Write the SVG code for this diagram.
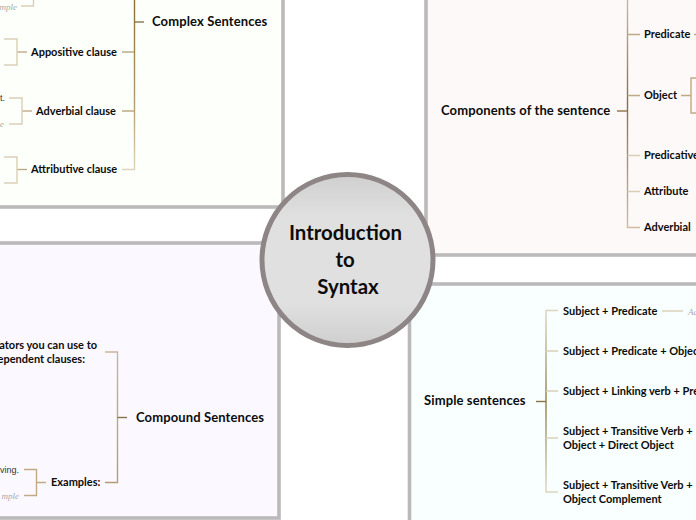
<svg xmlns="http://www.w3.org/2000/svg" width="696" height="520" viewBox="0 0 696 520">
<style>
text{font-family:"Lato","Noto Sans",sans-serif;font-weight:700;fill:#0c0c0c}
.h{font-size:13px;letter-spacing:.12px}
.s{font-size:11px}
.g{font-family:"Liberation Serif",serif;font-weight:400;font-style:italic;font-size:9px;fill:#a9a7a7}
.n{font-family:"Liberation Sans",sans-serif;font-weight:400;font-size:9px;fill:#333}
.p{stroke:#bbb9b9;stroke-width:3.6}
.c{fill:none;stroke-width:1.4}
.l{stroke:#d9cfb8}.m{stroke:#c0aa85}.d{stroke:#8b7348}
.t{font-size:20.4px;font-weight:700;text-anchor:middle}
</style>
<defs>
<linearGradient id="tl" gradientUnits="userSpaceOnUse" x1="0" y1="0" x2="0" y2="170"><stop offset="0" stop-color="#8b7030"/><stop offset=".6" stop-color="#b09c70"/><stop offset="1" stop-color="#ddd5bd"/></linearGradient>
<linearGradient id="tr" gradientUnits="userSpaceOnUse" x1="0" y1="0" x2="0" y2="228"><stop offset="0" stop-color="#cdb79a"/><stop offset=".45" stop-color="#8b6c48"/><stop offset="1" stop-color="#d0bc9f"/></linearGradient>
<linearGradient id="bl" gradientUnits="userSpaceOnUse" x1="0" y1="352" x2="0" y2="483"><stop offset="0" stop-color="#c9b59c"/><stop offset="1" stop-color="#b09a78"/></linearGradient>
<linearGradient id="br" gradientUnits="userSpaceOnUse" x1="0" y1="310" x2="0" y2="492"><stop offset="0" stop-color="#ddd5bd"/><stop offset=".5" stop-color="#8f7a45"/><stop offset="1" stop-color="#ddd5bd"/></linearGradient>
<linearGradient id="ball" x1="0" y1="0" x2="0" y2="1"><stop offset="0" stop-color="#cfcfcf"/><stop offset=".25" stop-color="#e0e0e0"/><stop offset=".75" stop-color="#e0e0e0"/><stop offset="1" stop-color="#cfcfcf"/></linearGradient>
</defs>

<g id="panels">
<rect x="-10" y="-10" width="293" height="217" fill="#fdfffa" class="p"/>
<rect x="426" y="-10" width="290" height="265" fill="#fdf9f8" class="p"/>
<rect x="-10" y="243" width="289" height="275" fill="#fbf9ff" class="p"/>
<rect x="409.500" y="284" width="300" height="250" fill="#f8fffe" class="p"/>
</g>

<g id="connectors">
<path class="c" stroke="url(#tl)" d="M134.500 0V169.500H122"/>
<path class="c d" d="M134 22H144"/>
<path class="c m" d="M122 52H134M122 111H134"/>
<path class="c l" d="M21 6H33.500V0"/>
<path class="c m" d="M17 52H27"/>
<path class="c l" d="M4 39H17V65H4"/>
<path class="c m" d="M22 111H32"/>
<path class="c l" d="M9 98H22V124H9"/>
<path class="c m" d="M17 169.500H27"/>
<path class="c l" d="M4 157H17V183H4"/>

<path class="c" stroke="url(#tr)" d="M627.500 0V227.500H640"/>
<path class="c d" d="M617 111H627.500"/>
<path class="c m" d="M627.500 34.500H640M627.500 95.500H640"/>
<path class="c l" d="M627.500 155.500H640M627.500 191.500H640"/>
<path class="c m" d="M694 34.500H696M681 95.500H691"/>
<path class="c m" d="M696 78H691V113H696"/>

<path class="c" stroke="url(#bl)" d="M105 352H117.500V482.500H105"/>
<path class="c d" d="M117.500 417.500H127"/>
<path class="c m" d="M37 482.500H46M24 495.500H36.500V469.500H24"/>

<path class="c" stroke="url(#br)" d="M558 310.500H546V492H558"/>
<path class="c d" d="M536 401.500H546"/>
<path class="c l" d="M546 351H558M546 391H558M546 438H558"/>
<path class="c l" d="M662 311H683"/>
</g>

<g id="complex-sentences"><text class="h" x="152" y="26">Complex Sentences</text></g>
<g id="appositive-clause"><text class="s" x="31" y="55.500">Appositive clause</text></g>
<g id="adverbial-clause"><text class="s" x="36" y="114.500">Adverbial clause</text></g>
<g id="attributive-clause"><text class="s" x="31" y="173">Attributive clause</text></g>
<g id="tl-notes">
<text class="g" x="17" y="9.500" text-anchor="end">mple</text>
<text class="n" x="5" y="101" text-anchor="end">t.</text>
<text class="g" x="4" y="127" text-anchor="end">e</text>
</g>

<g id="components"><text class="h" x="441" y="115">Components of the sentence</text></g>
<g id="predicate"><text class="s" x="644" y="38">Predicate</text></g>
<g id="object"><text class="s" x="644" y="99">Object</text></g>
<g id="predicative"><text class="s" x="644" y="159">Predicative</text></g>
<g id="attribute"><text class="s" x="644" y="195">Attribute</text></g>
<g id="adverbial"><text class="s" x="644" y="231">Adverbial</text></g>

<g id="compound-sentences"><text class="h" x="136" y="421.500">Compound Sentences</text></g>
<g id="coordinators">
<text class="s" x="97" y="348.500" text-anchor="end">ators you can use to</text>
<text class="s" x="85" y="362.500" text-anchor="end">ependent clauses:</text>
</g>
<g id="examples"><text class="s" x="51" y="486">Examples:</text></g>
<g id="bl-notes">
<text class="n" x="19" y="473" text-anchor="end">ving.</text>
<text class="g" x="19" y="499" text-anchor="end">mple</text>
</g>

<g id="simple-sentences"><text class="h" x="424" y="405">Simple sentences</text></g>
<g id="s-p"><text class="s" x="563" y="314.500">Subject + Predicate</text></g>
<g id="s-p-o"><text class="s" x="563" y="354.500">Subject + Predicate + Objec</text></g>
<g id="s-l-p"><text class="s" x="563" y="394.500">Subject + Linking verb + Pre</text></g>
<g id="s-t-i-d"><text class="s" x="563" y="434.500">Subject + Transitive Verb +</text><text class="s" x="563" y="448.500">Object + Direct Object</text></g>
<g id="s-t-c"><text class="s" x="563" y="488.500">Subject + Transitive Verb +</text><text class="s" x="563" y="502.500">Object Complement</text></g>
<g id="br-notes"><text class="g" x="688" y="315">Ac</text></g>

<g id="center">
<circle cx="347.500" cy="260" r="85.500" fill="url(#ball)" stroke="#8e8686" stroke-width="5"/>
<text class="t" x="345.500" y="240">Introduction</text>
<text class="t" x="345" y="267">to</text>
<text class="t" x="348" y="294">Syntax</text>
</g>
</svg>
